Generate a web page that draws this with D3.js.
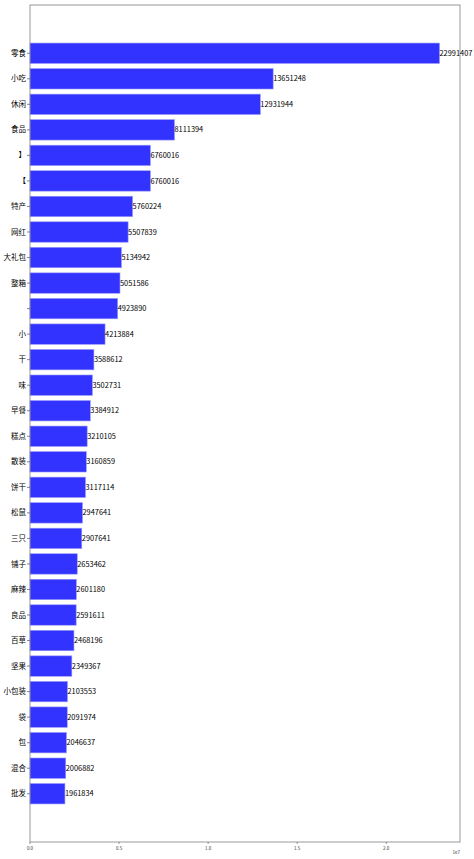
<!DOCTYPE html>
<html><head><meta charset="utf-8">
<script src="https://cdn.jsdelivr.net/npm/d3@7"></script>
<style>body{margin:0;background:#fff}svg{display:block}</style>
</head><body><div id="chart"></div>
<script>
const categories = ["零食","小吃","休闲","食品","】","【","特产","网红","大礼包","整箱"," ","小","干","味","早餐","糕点","散装","饼干","松鼠","三只","铺子","麻辣","良品","百草","坚果","小包装","袋","包","混合","批发"];
const values = [22991407,13651248,12931944,8111394,6760016,6760016,5760224,5507839,5134942,5051586,4923890,4213884,3588612,3502731,3384912,3210105,3160859,3117114,2947641,2907641,2653462,2601180,2591611,2468196,2349367,2103553,2091974,2046637,2006882,1961834];
const xTickValues = [0, 5e6, 1e7, 1.5e7, 2e7];
const xTickLabels = ["0.0","0.5","1.0","1.5","2.0"];

const W = 474, H = 859;
const L = 30, R = 460, T = 5, B = 842;
const font = "'Noto Sans CJK SC', 'DejaVu Sans', sans-serif";
const svg = d3.select("#chart").append("svg").attr("width", W).attr("height", H);

const xmax = d3.max(values) * 1.05;
const x = d3.scaleLinear().domain([0, xmax]).range([L, R]);
const n = categories.length;
const pad = (n - 1 + 0.8) * 0.05;
const y = d3.scaleLinear().domain([-0.4 - pad, n - 1 + 0.4 + pad]).range([T, B]);
const bh = 0.8;

svg.selectAll("rect.bar").data(values).join("rect")
  .attr("class","bar")
  .attr("x", x(0))
  .attr("y", (d,i) => y(i - bh/2))
  .attr("width", d => x(d) - x(0))
  .attr("height", (d,i) => y(i + bh/2) - y(i - bh/2))
  .attr("fill", "#3333ff")
  .attr("stroke", "#9a9aff").attr("stroke-width", 0.6);

// frame
svg.append("rect").attr("x", L).attr("y", T).attr("width", R-L).attr("height", B-T)
  .attr("fill","none").attr("stroke","#7f7f7f").attr("stroke-width",0.8);

svg.selectAll("text.val").data(values).join("text")
  .attr("class","val")
  .attr("x", d => x(d))
  .attr("y", (d,i) => y(i))
  .attr("dy", "0.35em")
  .attr("font-family", font).attr("font-size", 7.4).attr("fill", "#000")
  .text(d => d);

// y axis ticks
const yAxis = svg.append("g");
categories.forEach((c,i) => {
  yAxis.append("line").attr("x1", L-3).attr("x2", L).attr("y1", y(i)).attr("y2", y(i))
    .attr("stroke","#555").attr("stroke-width",0.7);
  yAxis.append("text").attr("x", L-4).attr("y", y(i)).attr("dy","0.35em")
    .attr("text-anchor","end").attr("font-family", font).attr("font-size", 7.5).attr("fill","#000")
    .text(c);
});

// x axis
const xAxis = svg.append("g");
xTickValues.forEach((v,i) => {
  xAxis.append("line").attr("x1", x(v)).attr("x2", x(v)).attr("y1", B).attr("y2", B+2)
    .attr("stroke","#555").attr("stroke-width",0.6);
  xAxis.append("text").attr("x", x(v)).attr("y", B+8).attr("text-anchor","middle")
    .attr("font-family", font).attr("font-size", 4.5).attr("fill","#333").text(xTickLabels[i]);
});
svg.append("text").attr("x", R).attr("y", B+12).attr("text-anchor","end")
  .attr("font-family", font).attr("font-size", 4.5).attr("fill","#333").text("1e7");
</script></body></html>
